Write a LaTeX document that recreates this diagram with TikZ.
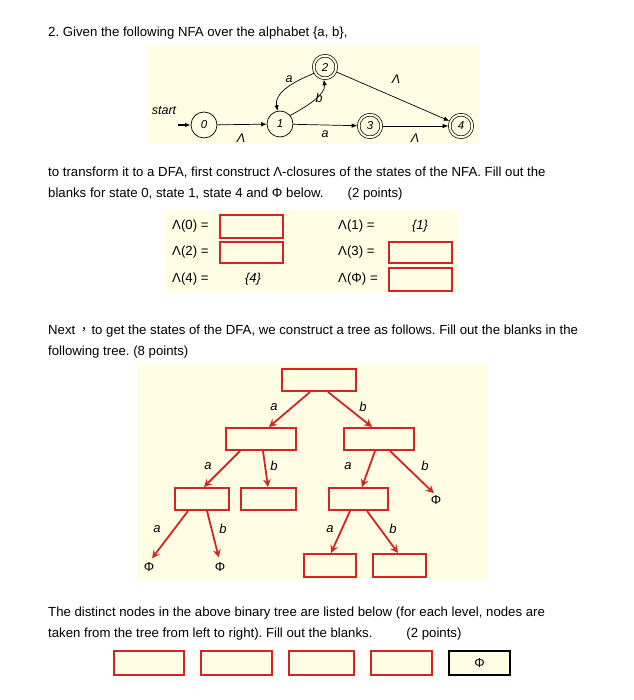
\documentclass[tikz,border=0pt]{standalone}
\usepackage{fontspec}
\setmainfont{Liberation Sans}
\newfontfamily\cjk{Noto Sans CJK TC}
\usetikzlibrary{arrows.meta}
\definecolor{cream}{RGB}{255,253,228}
\definecolor{boxred}{RGB}{214,36,36}
\frenchspacing
\begin{document}
\begin{tikzpicture}[x=1pt,y=-1pt,font=\fontsize{13.2}{15}\selectfont,
  txt/.style={anchor=base west, inner sep=0},
  st/.style={draw, circle, minimum size=26pt, inner sep=0, line width=0.7pt, font=\fontsize{11.5}{11.5}\selectfont\itshape},
  acc/.style={st, double=cream, double distance=2pt, minimum size=22.6pt, outer sep=1.5pt},
  nfa/.style={-{Latex[length=5.5pt,width=4.5pt]}, line width=0.7pt},
  lbl/.style={inner sep=1pt, font=\fontsize{12.5}{12.5}\selectfont\itshape},
  blank/.style={draw=boxred, line width=2pt, fill=cream, inner sep=0},
  tbox/.style={draw=boxred, line width=2pt, fill=cream, inner sep=0, minimum height=22pt},
  tarr/.style={draw=boxred, line width=1.8pt, -{Stealth[length=8pt,width=8pt,inset=3pt]}},
  tl/.style={inner sep=0, font=\fontsize{13}{13}\selectfont\itshape},
  phi/.style={inner sep=0, font=\fontsize{13}{13}\selectfont},
  cl/.style={anchor=west, inner sep=0}]
\useasboundingbox (0,0) rectangle (633,700);
\fill[white] (0,0) rectangle (633,700);

% ---- first line
\node[txt] (t1) at (48,37) {2. Given the following NFA over the alphabet \{a, b\},};

% ---- NFA
\fill[cream] (147,45) rectangle (480,144);
\node[st] (s0) at (204,125) {0};
\node[st] (s1) at (280,124) {1};
\node[acc] (s2) at (325,67) {2};
\node[acc] (s3) at (370,126) {3};
\node[acc] (s4) at (461,126) {4};
\coordinate (st0) at (178,125);
\node[lbl] (start) at (164,111) {start};
\draw[-{Latex[length=5.5pt,width=4.5pt]}, line width=1.3pt] (st0) -- (s0);
\draw[nfa] (s0) -- (s1);
\node[lbl] (l01) at (241,138) {Λ};
\draw[nfa] (s1) -- (s3);
\node[lbl] (l13) at (325,134) {a};
\draw[nfa] (s3) -- (s4);
\node[lbl] (l34) at (415,138) {Λ};
\draw[nfa] (s2) -- (s4);
\node[lbl] (l24) at (396,79) {Λ};
\draw[nfa] (s2.210) .. controls +(-20,8) and +(-4,-18) .. (s1.100);
\node[lbl] (l21) at (289,79) {a};
\draw[nfa] (s1.40) .. controls +(15,-8) and +(2,15) .. (s2.265);
\node[lbl] (l12) at (319,98) {b};

% ---- second paragraph
\node[txt] (t2) at (48,177) {to transform it to a DFA, first construct Λ-closures of the states of the NFA. Fill out the};
\node[txt] (t3) at (48,198) {blanks for state 0, state 1, state 4 and Φ below.\hspace{24pt}(2 points)};

% ---- closures
\fill[cream] (166,210) rectangle (457,293);
\node[cl] (c0) at (172,226.5) {Λ(0) =};
\node[cl] (c2) at (172,252.5) {Λ(2) =};
\node[cl] (c4) at (172,279) {Λ(4) =};
\node[cl] (c1) at (338,226.5) {Λ(1) =};
\node[cl] (c3) at (338,252.5) {Λ(3) =};
\node[cl] (cp) at (338,279) {Λ(Φ) =};
\node[blank, minimum width=63pt, minimum height=23pt] (b0) at (251.5,226.5) {};
\node[blank, minimum width=63pt, minimum height=21pt] (b2) at (251.5,252.5) {};
\node[tl] (v4) at (253,279) {\{4\}};
\node[tl] (v1) at (420,226.5) {\{1\}};
\node[blank, minimum width=63pt, minimum height=21pt] (b3) at (420.5,252.5) {};
\node[blank, minimum width=63pt, minimum height=23pt] (bp) at (420.5,279.5) {};

% ---- third paragraph
\node[txt] (t4) at (48,334) {Next\hspace{2pt}{\cjk ，}\hspace{1pt}to get the states of the DFA, we construct a tree as follows. Fill out the blanks in the};
\node[txt] (t5) at (48,355) {following tree. (8 points)};

% ---- tree
\fill[cream] (137,363) rectangle (488,579);
\node[tbox, minimum width=74pt] (r) at (319,380) {};
\node[tbox, minimum width=70pt] (L) at (261,439) {};
\node[tbox, minimum width=70pt] (R) at (379,439) {};
\node[tbox, minimum width=54pt] (LA) at (202,499) {};
\node[tbox, minimum width=55pt] (LB) at (268.5,499) {};
\node[tbox, minimum width=59pt] (RA) at (358.5,499) {};
\node[phi] (RB) at (436,500) {Φ};
\node[phi] (LAA) at (149,567) {Φ};
\node[phi] (LAB) at (220,567) {Φ};
\node[tbox, minimum width=52pt, minimum height=23pt] (RAA) at (330,565.5) {};
\node[tbox, minimum width=53pt, minimum height=23pt] (RAB) at (399.5,565.5) {};

\draw[tarr] ([xshift=-9pt]r.south) -- ([xshift=8pt]L.north);
\draw[tarr] ([xshift=9pt]r.south) -- ([xshift=-7pt]R.north);
\draw[tarr] ([xshift=-21pt]L.south) -- ([xshift=2pt]LA.north);
\draw[tarr] ([xshift=2pt]L.south) -- ([xshift=-0.5pt]LB.north);
\draw[tarr] ([xshift=-4pt]R.south) -- ([xshift=3.5pt]RA.north);
\draw[tarr, shorten >=3pt] ([xshift=11pt]R.south) -- (RB.north);
\draw[tarr, shorten >=5pt] ([xshift=-14pt]LA.south) -- (LAA.north);
\draw[tarr, shorten >=5pt] ([xshift=5pt]LA.south) -- (LAB.north);
\draw[tarr] ([xshift=-8.5pt]RA.south) -- ([xshift=1pt]RAA.north);
\draw[tarr] ([xshift=8.5pt]RA.south) -- ([xshift=-1.5pt]RAB.north);

\node[tl] (la1) at (274,407) {a};
\node[tl] (lb1) at (363,407) {b};
\node[tl] (la2) at (208,466) {a};
\node[tl] (lb2) at (274,466) {b};
\node[tl] (la3) at (348,466) {a};
\node[tl] (lb3) at (425,466) {b};
\node[tl] (la4) at (157,529) {a};
\node[tl] (lb4) at (223,529) {b};
\node[tl] (la5) at (330,529) {a};
\node[tl] (lb5) at (393,529) {b};

% ---- last paragraph
\node[txt] (t6) at (48,616) {The distinct nodes in the above binary tree are listed below (for each level, nodes are};
\node[txt] (t7) at (48,637) {taken from the tree from left to right). Fill out the blanks.\hspace{34pt}(2 points)};

\node[tbox, minimum width=70pt, minimum height=24pt] (d1) at (149,663) {};
\node[tbox, minimum width=71pt, minimum height=24pt] (d2) at (236.5,663) {};
\node[tbox, minimum width=65pt, minimum height=24pt] (d3) at (321.5,663) {};
\node[tbox, minimum width=61pt, minimum height=24pt] (d4) at (401.5,663) {};
\node[tbox, draw=black, minimum width=61pt, minimum height=24pt, font=\fontsize{13}{13}\selectfont] (d5) at (479.5,663) {Φ};
\end{tikzpicture}
\end{document}
